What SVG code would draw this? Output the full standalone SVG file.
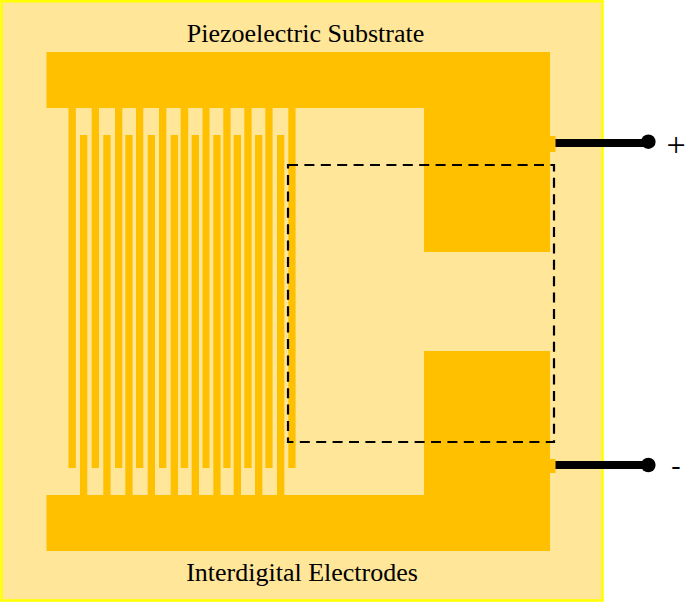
<svg xmlns="http://www.w3.org/2000/svg" width="685" height="602" viewBox="0 0 685 602">
<style>
.sub{fill:#ffe699}
.el{fill:#ffc000}
.t{font-family:"Liberation Serif","Times New Roman",serif;font-size:26px;fill:#000}
.wire{stroke:#000;stroke-width:8;fill:none}
</style>
<rect width="685" height="602" fill="#fff"/>
<g id="substrate"><rect class="sub" x="1.5" y="1.2" width="601" height="599.3" stroke="#ffff00" stroke-width="2.6"/></g>
<g id="electrode-top">
<path class="el" d="M46.5 52H550V136H555.5V152H550V252H424V108H46.5Z"/>
<rect class="el" x="68.5" y="108" width="7.3" height="360"/>
<rect class="el" x="91.7" y="108" width="7.3" height="360"/>
<rect class="el" x="115" y="108" width="7.3" height="360"/>
<rect class="el" x="136" y="108" width="7.3" height="360"/>
<rect class="el" x="159" y="108" width="7.3" height="360"/>
<rect class="el" x="180.7" y="108" width="7.5" height="360"/>
<rect class="el" x="202.5" y="108" width="7" height="360"/>
<rect class="el" x="223.3" y="108" width="7.3" height="360"/>
<rect class="el" x="244.3" y="108" width="7.3" height="360"/>
<rect class="el" x="265.3" y="108" width="7.3" height="360"/>
<rect class="el" x="288.3" y="108" width="7.3" height="360"/>
</g>
<g id="electrode-bottom">
<path class="el" d="M46.5 551H550V473H555.5V459H550V351H424V495H46.5Z"/>
<rect class="el" x="80" y="135" width="7.3" height="360"/>
<rect class="el" x="103.3" y="135" width="7.3" height="360"/>
<rect class="el" x="125.3" y="135" width="7.3" height="360"/>
<rect class="el" x="147.7" y="135" width="7.3" height="360"/>
<rect class="el" x="170.7" y="135" width="7.3" height="360"/>
<rect class="el" x="191.7" y="135" width="7.3" height="360"/>
<rect class="el" x="213.3" y="135" width="7.3" height="360"/>
<rect class="el" x="233.7" y="135" width="7.3" height="360"/>
<rect class="el" x="255" y="135" width="7.3" height="360"/>
<rect class="el" x="277" y="135" width="7.3" height="360"/>
</g>
<g id="connectors">
<rect x="288" y="165" width="266" height="277" fill="none" stroke="#000" stroke-width="2.2" stroke-dasharray="10 6.4"/>
<path class="wire" d="M555.5 143H648"/>
<circle cx="648.3" cy="141.7" r="7.3"/>
<path class="wire" d="M555.5 465H648"/>
<circle cx="648.3" cy="465" r="7.3"/>
</g>
<g id="labels">
<text class="t" x="305.5" y="42" text-anchor="middle">Piezoelectric Substrate</text>
<text class="t" x="302" y="581" text-anchor="middle">Interdigital Electrodes</text>
<text x="676" y="156" text-anchor="middle" style="font-family:'Liberation Serif','Times New Roman',serif;font-size:34px">+</text>
<text x="676" y="474" text-anchor="middle" style="font-family:'Liberation Serif','Times New Roman',serif;font-size:28px">-</text>
</g>
</svg>
